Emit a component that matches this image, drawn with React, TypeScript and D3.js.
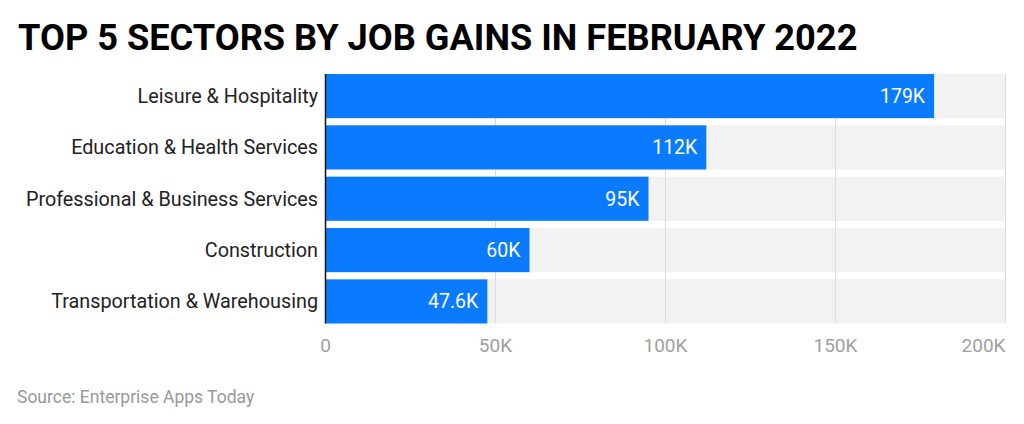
import React from 'react';
import * as d3 from 'd3';

const sectors = [
  'Leisure & Hospitality',
  'Education & Health Services',
  'Professional & Business Services',
  'Construction',
  'Transportation & Warehousing',
];
const jobGains = [179, 112, 95, 60, 47.6]; // thousands
const valueLabels = ['179K', '112K', '95K', '60K', '47.6K'];
const tickValues = [0, 50, 100, 150, 200];
const tickLabels = ['0', '50K', '100K', '150K', '200K'];

const W = 1024;
const H = 424;
const font = 'Roboto, "Noto Sans", sans-serif';

export default function App() {
  const x = d3.scaleLinear().domain([0, 200]).range([325.5, 1005.5]);
  const y = d3
    .scaleBand()
    .domain(sectors)
    .range([74, 323.5])
    .paddingInner(0.14)
    .paddingOuter(0);
  const top = y(sectors[0]) as number;
  const bottom = (y(sectors[sectors.length - 1]) as number) + y.bandwidth();

  return (
    <svg width={W} height={H} style={{ display: 'block', position: 'absolute', left: 0, top: 0 }}>
      <rect x={0} y={0} width={W} height={H} fill="#fff" />
      <text x={18} y={50} fontFamily={font} fontWeight={700} fontSize={36.2} fill="#000">
        TOP 5 SECTORS BY JOB GAINS IN FEBRUARY 2022
      </text>
      {sectors.map((s) => (
        <rect
          key={'bg' + s}
          x={x(0)}
          y={y(s)}
          width={x(200) - x(0)}
          height={y.bandwidth()}
          fill="#f2f2f2"
        />
      ))}
      {tickValues.slice(1).map((t) => (
        <line key={'g' + t} x1={x(t)} x2={x(t)} y1={top} y2={bottom} stroke="#dcdcdc" strokeWidth={1} />
      ))}
      {sectors.map((s, i) => (
        <g key={s}>
          <rect x={x(0)} y={y(s)} width={x(jobGains[i]) - x(0)} height={y.bandwidth()} fill="#0a7bff" />
          <text
            x={x(jobGains[i]) - 9}
            y={(y(s) as number) + y.bandwidth() / 2}
            dy="0.35em"
            textAnchor="end"
            fontFamily={font}
            fontSize={19.5}
            fill="#fff"
          >
            {valueLabels[i]}
          </text>
          <text
            x={318}
            y={(y(s) as number) + y.bandwidth() / 2}
            dy="0.35em"
            textAnchor="end"
            fontFamily={font}
            fontSize={19.8}
            fill="#222"
          >
            {s}
          </text>
        </g>
      ))}
      <line x1={x(0)} x2={x(0)} y1={top} y2={bottom} stroke="#111" strokeWidth={1.5} />
      {tickValues.map((t, i) => (
        <text
          key={'t' + t}
          x={x(t)}
          y={345}
          dy="0.35em"
          textAnchor={i === tickValues.length - 1 ? 'end' : 'middle'}
          fontFamily={font}
          fontSize={19}
          fill="#a0a0a0"
        >
          {tickLabels[i]}
        </text>
      ))}
      <text x={17} y={397} dy="0.35em" fontFamily={font} fontSize={17.5} fill="#999">
        Source: Enterprise Apps Today
      </text>
    </svg>
  );
}
